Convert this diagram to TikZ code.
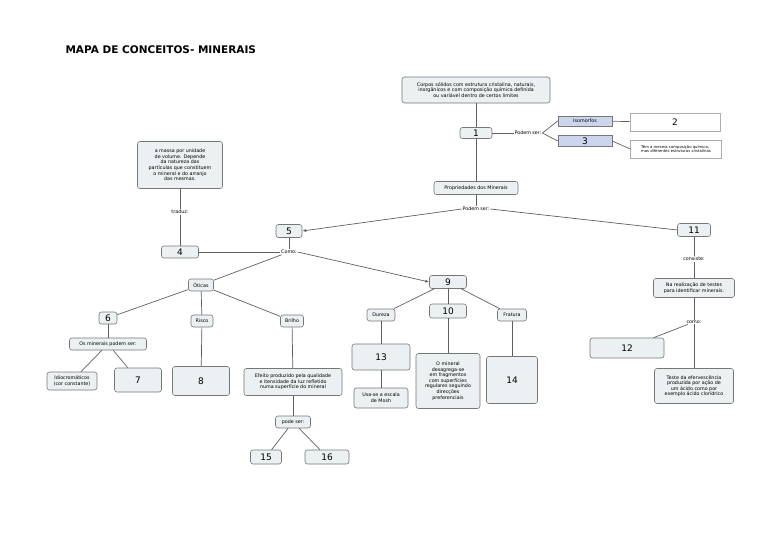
\documentclass[tikz,border=0pt]{standalone}
\usepackage{fontspec}
\setmainfont{DejaVu Sans}
\usetikzlibrary{arrows.meta}
\definecolor{boxfill}{HTML}{EBF0F2}
\definecolor{bluefill}{HTML}{CBD6EE}
\definecolor{edge}{HTML}{777777}
\begin{document}
\begin{tikzpicture}[x=1pt,y=-1pt,
  box/.style={draw=edge,fill=boxfill,rounded corners=2.5pt,line width=0.6pt,align=center,font=\fontsize{4.8}{5.6}\selectfont,inner sep=1.5pt},
  num/.style={box,font=\fontsize{9}{10}\selectfont},
  lbl/.style={fill=white,inner sep=0.8pt,font=\fontsize{4.8}{5.6}\selectfont},
  ln/.style={draw=edge!80!black,line width=0.7pt},
  arr/.style={ln,-{Latex[length=4pt,width=3pt]}}]
\useasboundingbox (0,0) rectangle (768,543);
\node[anchor=west,font=\bfseries\fontsize{10.5}{12}\selectfont] (title) at (62,50) {MAPA DE CONCEITOS- MINERAIS};
% top part
\node[box,minimum width=148,minimum height=26] (top) at (476,90) {Corpos sólidos com estrutura cristalina, naturais,\\inorgânicos e com composição química definida\\ou variável dentro de certos limites};
\node[num,minimum width=32,minimum height=11,inner sep=0.5pt] (n1) at (476,133) {1};
\node[lbl] (ps1) at (528,133) {Podem ser:};
\node[box,fill=bluefill,rounded corners=0pt,minimum width=54,minimum height=10] (iso) at (585,121) {Isomorfos};
\node[num,fill=bluefill,rounded corners=0pt,minimum width=54,minimum height=11,inner sep=0.5pt] (n3) at (585,141) {3};
\node[num,fill=white,draw=edge!60,rounded corners=0pt,minimum width=90,minimum height=18] (n2) at (675,122) {2};
\node[box,fill=white,draw=edge!60,rounded corners=0pt,minimum width=91,minimum height=18,font=\fontsize{3.8}{4.6}\selectfont,align=left] (tem) at (676,149) {Têm a mesma composição química,\\mas diferentes estruturas cristalinas};
\node[box,minimum width=84,minimum height=13] (prop) at (476,188) {Propriedades dos Minerais};
\node[lbl] (ps2) at (476,209) {Podem ser:};
\node[num,minimum width=33,minimum height=13,inner sep=0.5pt] (n11) at (694,230) {11};
\node[num,minimum width=26,minimum height=13,inner sep=0.5pt] (n5) at (289,231) {5};
\node[lbl] (como) at (289,252) {Como:};
\node[num,minimum width=37,minimum height=12,inner sep=0.5pt] (n4) at (180,252) {4};
\node[box,minimum width=85,minimum height=47] (dens) at (180,165) {a massa por unidade\\de volume. Depende\\da natureza das\\partículas que constituem\\o mineral e do arranjo\\das mesmas.};
\node[lbl] (trad) at (180,212) {traduz:};
\node[num,minimum width=37,minimum height=13,inner sep=0.5pt] (n9) at (448,282) {9};
% oticas branch
\node[box,minimum width=25,minimum height=12] (ot) at (201,285) {Óticas};
\node[num,minimum width=18,minimum height=12,inner sep=0.5pt] (n6) at (108,318) {6};
\node[box,minimum width=22,minimum height=12] (risco) at (202,321) {Risco};
\node[box,minimum width=23,minimum height=12] (brilho) at (292,321) {Brilho};
\node[box,minimum width=77,minimum height=12] (osm) at (108,344) {Os minerais podem ser:};
\node[box,minimum width=50,minimum height=18] (idio) at (72,381) {Idiocromáticos\\(cor constante)};
\node[num,minimum width=47,minimum height=24] (n7) at (138,380) {7};
\node[num,minimum width=57,minimum height=29] (n8) at (201,381) {8};
\node[box,minimum width=98,minimum height=27] (efe) at (293,382) {Efeito produzido pela qualidade\\e itensidade da luz refletido\\numa superfície do mineral};
\node[box,minimum width=35,minimum height=12] (pode) at (293,422) {pode ser:};
\node[num,minimum width=31,minimum height=14,inner sep=0.5pt] (n15) at (266,457) {15};
\node[num,minimum width=44,minimum height=14,inner sep=0.5pt] (n16) at (327,457) {16};
% 9 branch
\node[box,minimum width=28,minimum height=12] (dur) at (381,315) {Dureza};
\node[num,minimum width=37,minimum height=14,inner sep=0.5pt] (n10) at (448,311) {10};
\node[box,minimum width=29,minimum height=12] (frat) at (512,315) {Fratura};
\node[num,minimum width=58,minimum height=26] (n13) at (381,357) {13};
\node[box,minimum width=54,minimum height=20] (usa) at (381,398) {Usa-se a escala\\de Mosh};
\node[box,minimum width=64,minimum height=55] (omin) at (448,381) {O mineral\\desagrega-se\\em fragmentos\\com superfícies\\regulares seguindo\\direcções\\preferenciais};
\node[num,minimum width=51,minimum height=47] (n14) at (512,380) {14};
% 11 branch
\node[lbl] (cons) at (694,259) {consiste:};
\node[box,minimum width=81,minimum height=19] (real) at (694,288) {Na realização de testes\\para identificar minerais.};
\node[lbl] (como2) at (694,322) {como:};
\node[num,minimum width=74,minimum height=20] (n12) at (627,348) {12};
\node[box,minimum width=79,minimum height=35] (teste) at (694,386) {Teste da efervescência\\produzida por ação de\\um ácido como por\\exemplo ácido clorídrico};
% connectors
\draw[ln] (top) -- (n1);
\draw[ln] (n1) -- (ps1);
\draw[ln] (ps1.east) -- (iso.west);
\draw[ln] (ps1.east) -- (n3.west);
\draw[ln] (iso) -- (n2);
\draw[ln] (n3.east) -- (tem.west);
\draw[ln] (n1) -- (prop);
\draw[ln] (prop) -- (ps2);
\draw[arr] (ps2.west) -- (n5.east);
\draw[ln] (ps2.east) -- (n11.west);
\draw[ln] (n5) -- (como);
\draw[ln] (como) -- (n4);
\draw[ln] (dens) -- (trad);
\draw[ln] (trad) -- (n4);
\draw[arr] (como.east) -- (n9.west);
\draw[ln] (como) -- (ot);
\draw[ln] (ot) -- (n6);
\draw[ln] (ot) -- (risco);
\draw[ln] (ot) -- (brilho);
\draw[ln] (n6) -- (osm);
\draw[ln] (osm) -- (idio);
\draw[ln] (osm) -- (n7);
\draw[ln] (risco) -- (n8);
\draw[ln] (brilho) -- (efe);
\draw[ln] (efe) -- (pode);
\draw[ln] (pode) -- (n15);
\draw[ln] (pode) -- (n16);
\draw[ln] (n9) -- (dur);
\draw[ln] (n9) -- (n10);
\draw[ln] (n9) -- (frat);
\draw[ln] (dur) -- (n13);
\draw[ln] (n13) -- (usa);
\draw[ln] (n10) -- (omin);
\draw[ln] (frat) -- (n14);
\draw[ln] (n11) -- (cons);
\draw[ln] (cons) -- (real);
\draw[ln] (real) -- (como2);
\draw[ln] (como2) -- (n12);
\draw[ln] (como2) -- (teste);
\end{tikzpicture}
\end{document}
